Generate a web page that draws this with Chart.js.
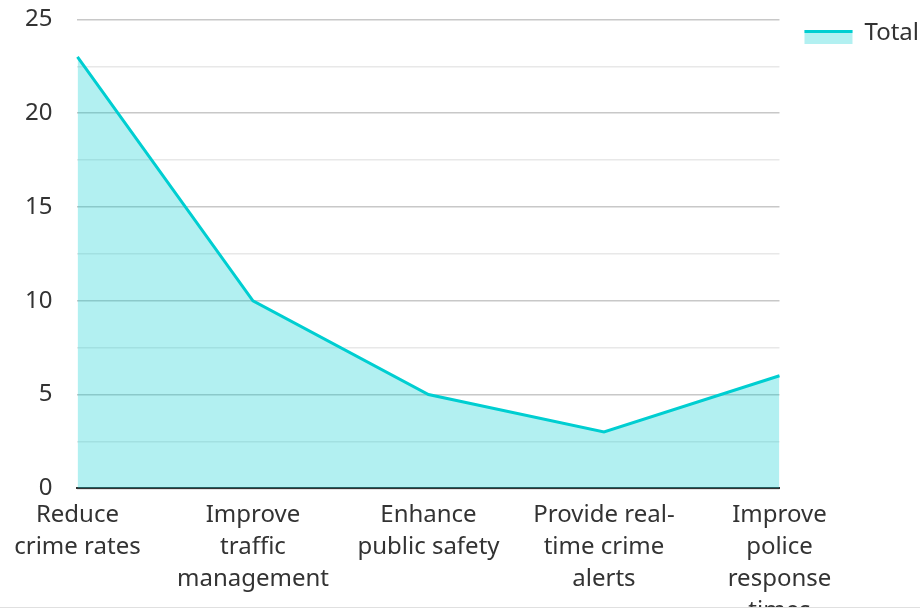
<!DOCTYPE html>
<html>
<head>
<meta charset="utf-8">
<script src="https://cdn.jsdelivr.net/npm/chart.js@4"></script>
<style>
  html, body { margin: 0; padding: 0; background: #fff; overflow: hidden; }
  #clip { width: 920px; height: 607px; overflow: hidden; border-bottom: 1px solid #e0e0e0; }
  #wrap { width: 920px; height: 630px; position: relative; }
</style>
</head>
<body>
<div id="clip"><div id="wrap"><canvas id="c"></canvas></div></div>
<script>
const categories = [
  ["Reduce", "crime rates"],
  ["Improve", "traffic", "management"],
  ["Enhance", "public safety"],
  ["Provide real-", "time crime", "alerts"],
  ["Improve", "police", "response", "times"]
];
const seriesName = "Total";
const totals = [23, 10, 5, 3, 6];
const yTicks = [0, 5, 10, 15, 20, 25];

const LINE = "#00CED1";
const FILL = "rgba(0,206,209,0.3)";
const SWATCH_W = 48, SWATCH_H = 14, SWATCH_SHIFT = 9, SWATCH_DROP = 4;

const legendSwatchPlugin = {
  id: "legendSwatch",
  afterDraw(chart) {
    const lg = chart.legend;
    if (!lg || !lg.legendHitBoxes) return;
    const ctx = chart.ctx;
    const opts = lg.options.labels;
    const fontSize = opts.font.size;
    lg.legendHitBoxes.forEach(hb => {
      const top = hb.top + Math.max((fontSize - opts.boxHeight) / 2, 0) + SWATCH_DROP;
      const left = hb.left + SWATCH_SHIFT;
      ctx.save();
      ctx.fillStyle = FILL;
      ctx.fillRect(left, top, SWATCH_W, SWATCH_H);
      ctx.fillStyle = LINE;
      ctx.fillRect(left, top, SWATCH_W, 3);
      ctx.restore();
    });
  }
};

new Chart(document.getElementById("c"), {
  type: "line",
  data: {
    labels: categories,
    datasets: [{
      label: seriesName,
      data: totals,
      borderColor: LINE,
      backgroundColor: FILL,
      borderWidth: 3,
      fill: "origin",
      pointRadius: 0,
      tension: 0
    }]
  },
  options: {
    responsive: true,
    maintainAspectRatio: false,
    animation: false,
    layout: { padding: { left: 0, right: -9, top: 5, bottom: 0 } },
    plugins: {
      tooltip: { enabled: false },
      legend: {
        position: "right",
        align: "start",
        labels: {
          boxWidth: SWATCH_W + SWATCH_SHIFT,
          boxHeight: SWATCH_H,
          padding: 16,
          color: "#333",
          font: { family: "'Noto Sans'", size: 24 },
          generateLabels(chart) {
            const items = Chart.defaults.plugins.legend.labels.generateLabels(chart);
            items.forEach(it => { it.lineWidth = 0; it.strokeStyle = "rgba(0,0,0,0)"; it.fillStyle = "rgba(0,0,0,0)"; });
            return items;
          }
        }
      }
    },
    scales: {
      x: {
        offset: false,
        grid: { display: false },
        border: { display: true, color: "#333", width: 2 },
        ticks: {
          color: "#333",
          maxRotation: 0,
          autoSkip: false,
          padding: 3,
          font: { family: "'Noto Sans'", size: 24, lineHeight: 1.33 }
        }
      },
      y: {
        min: 0,
        max: 25,
        border: { display: false },
        grid: {
          drawTicks: false,
          color: ctx => (ctx.tick && ctx.tick.value % 5 === 0) ? "#c8c8c8" : "#e8e8e8",
          lineWidth: 1.5
        },
        afterBuildTicks(scale) {
          const t = [];
          for (let i = 0; i < yTicks.length; i++) {
            t.push({ value: yTicks[i] });
            if (i < yTicks.length - 1) t.push({ value: (yTicks[i] + yTicks[i + 1]) / 2 });
          }
          scale.ticks = t;
        },
        afterFit(scale) {
          const p = scale.options.ticks.padding;
          scale.paddingTop = Math.max(scale.paddingTop - p + 5, 0);
          scale.paddingBottom = Math.max(scale.paddingBottom - p, 0);
        },
        ticks: {
          color: "#333",
          padding: 25,
          autoSkip: false,
          font: { family: "'Noto Sans'", size: 24 },
          callback: v => (yTicks.includes(v) ? String(v) : "")
        }
      }
    }
  },
  plugins: [legendSwatchPlugin]
});
</script>
</body>
</html>
